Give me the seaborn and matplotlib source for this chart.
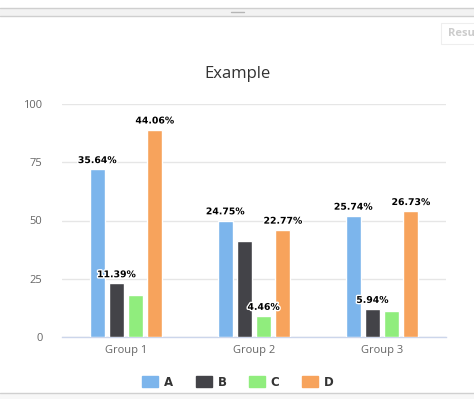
import pandas as pd
import numpy as np
import matplotlib
matplotlib.use('Agg')
import matplotlib.pyplot as plt
import matplotlib.patheffects as pe
from matplotlib.lines import Line2D
from matplotlib.patches import Rectangle
import seaborn as sns

groups = ['Group 1', 'Group 2', 'Group 3']
series = ['A', 'B', 'C', 'D']
vals_a = [72, 50, 52]
vals_b = [23, 41, 12]
vals_c = [18, 9, 11]
vals_d = [89, 46, 54]
total = 202
# labels the chart hides because they overlap
hidden = {('C', 'Group 1'), ('B', 'Group 2'), ('C', 'Group 3')}

colors = ['#7cb5ec', '#434348', '#90ed7d', '#f7a35c']

df = pd.DataFrame({
    'group': groups * 4,
    'series': [s for s in series for _ in groups],
    'value': vals_a + vals_b + vals_c + vals_d,
})

sns.set_style('white')
plt.rcParams['font.family'] = ['Open Sans', 'DejaVu Sans']

fig = plt.figure(figsize=(4.74, 3.99), dpi=100)
ax = fig.add_axes([62/474, 1-337/399, (446-62)/474, (337-104)/399])

sns.barplot(data=df, x='group', y='value', hue='series', palette=colors,
            saturation=1, width=0.6, gap=0.2, errorbar=None, ax=ax,
            legend=False, zorder=3)

for cont, s in zip(ax.containers, series):
    cont_df = df[df['series'] == s]
    labs = []
    for g, v in zip(cont_df['group'], cont_df['value']):
        labs.append('' if (s, g) in hidden else f'{v/total*100:.2f}%')
    txts = ax.bar_label(cont, labels=labs, padding=3, fontsize=6.7,
                        fontweight='bold', family='DejaVu Sans', color='black')
    for t in txts:
        t.set_path_effects([pe.withStroke(linewidth=2, foreground='white')])
        t.set_zorder(5)

ax.set_ylim(0, 100)
ax.set_xlim(-0.5, 2.5)
ax.set_yticks([0, 25, 50, 75, 100])
ax.yaxis.grid(True, color='#e6e6e6', linewidth=1, zorder=0)
ax.set_axisbelow(True)
for sp in ['left', 'right', 'top']:
    ax.spines[sp].set_visible(False)
ax.spines['bottom'].set_color('#ccd6eb')
ax.spines['bottom'].set_linewidth(1)
ax.tick_params(axis='y', length=0, pad=14, labelsize=8, labelcolor='#666666')
ax.tick_params(axis='x', which='major', length=0, pad=6, labelsize=8, labelcolor='#666666')
ax.set_xticks([-0.5, 0.5, 1.5, 2.5], minor=True)
ax.tick_params(axis='x', which='minor', length=7, color='#ccd6eb', width=1, direction='out')
ax.set_xlabel('')
ax.set_ylabel('')

fig.text(238/474, 1-74/399, 'Example', ha='center', va='center',
         fontsize=12, color='#333333')

# legend
handles = [Rectangle((0, 0), 1, 1, color=c) for c in colors]
leg = fig.legend(handles, series, loc='center', bbox_to_anchor=(238/474, 1-382/399),
                 ncol=4, frameon=False, handlelength=1.35, handleheight=0.95,
                 columnspacing=1.9, handletextpad=0.5,
                 prop={'family': 'DejaVu Sans', 'weight': 'bold', 'size': 8.5})
for t in leg.get_texts():
    t.set_color('#333333')

# surrounding page frame
fig.add_artist(Rectangle((0, 1-16/399), 1, 8/399, transform=fig.transFigure,
                         facecolor='#f2f2f2', edgecolor='none'))
for y in (8, 16):
    fig.add_artist(Line2D([0, 1], [1-y/399, 1-y/399], transform=fig.transFigure,
                          color='#cfcfcf', linewidth=1))
fig.add_artist(Line2D([0, 1], [1-393/399, 1-393/399], transform=fig.transFigure,
                      color='#d0d0d0', linewidth=1))
fig.add_artist(Rectangle((0, 0), 1, 6/399, transform=fig.transFigure,
                         facecolor='#f7f7f7', edgecolor='none'))
fig.add_artist(Line2D([231/474, 244/474], [1-12/399, 1-12/399], transform=fig.transFigure,
                      color='#b5b5b5', linewidth=1))
fig.add_artist(Rectangle((441/474, 1-44/399), 40/474, 21/399, transform=fig.transFigure,
                         facecolor='white', edgecolor='#eeeeee', linewidth=0.8))
fig.text(448/474, 1-33/399, 'Resu', ha='left', va='center', fontsize=8,
         color='#cccccc', fontweight='bold')

fig.savefig('out.png', dpi=100)
